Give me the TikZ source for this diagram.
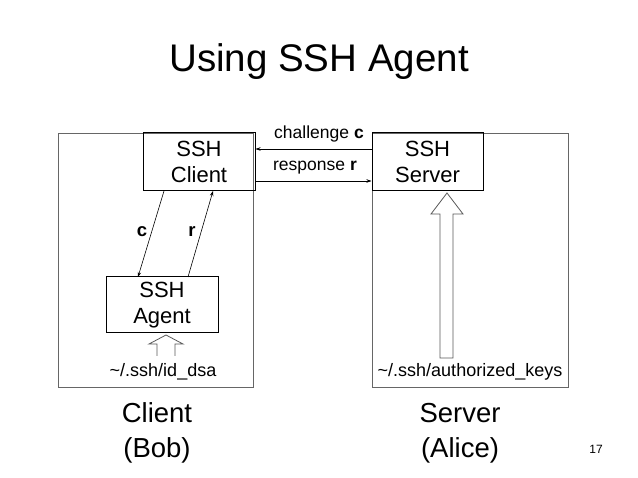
\documentclass[tikz,border=0pt]{standalone}
\usepackage{fontspec}
\setmainfont{Liberation Sans}
\usetikzlibrary{arrows.meta}
\begin{document}
\begin{tikzpicture}[x=1pt,y=-1pt,
  outer/.style={draw=black!60,line width=0.8pt,inner sep=0pt},
  boxn/.style={draw=black,line width=1pt,inner sep=0pt,align=center,font=\fontsize{22}{25.5}\selectfont},
  lab/.style={inner sep=0pt,font=\fontsize{17.5}{20}\selectfont},
  conn/.style={line width=0.6pt,-{Stealth[length=5pt,width=3.5pt]}},
  hollow/.style={draw=black!65,fill=white,line width=0.8pt}]
\useasboundingbox (0,0) rectangle (638,478);
% title
\node[font=\fontsize{38.5}{44}\selectfont] (title) at (319,62) {Using SSH Agent};
% outer frames
\node[outer,minimum width=195pt,minimum height=254pt] (cframe) at (155.5,260) {};
\node[outer,minimum width=196pt,minimum height=254pt] (sframe) at (470,260) {};
% boxes
\node[boxn,minimum width=112pt,minimum height=58pt] (client) at (199,162) {SSH\\Client};
\node[boxn,minimum width=111pt,minimum height=58pt] (server) at (427.5,162) {SSH\\Server};
\node[boxn,minimum width=112pt,minimum height=56pt] (agent) at (162,305) {SSH\\Agent};
% file labels
\node[lab,font=\fontsize{18}{20}\selectfont] (idfile) at (163,372) {\textasciitilde/.ssh/id\_dsa};
\node[lab,font=\fontsize{18}{20}\selectfont] (akfile) at (470,372) {\textasciitilde/.ssh/authorized\_keys};
% client-server arrows
\coordinate (chs) at (server.west |- 0,149);
\coordinate (che) at (client.east |- 0,149);
\coordinate (rss) at (client.east |- 0,181);
\coordinate (rse) at (server.west |- 0,181);
\draw[conn] (chs) -- (che);
\draw[conn] (rss) -- (rse);
\node[lab] (chl) at (319,134) {challenge \textbf{c}};
\node[lab] (rsl) at (315,168) {response \textbf{r}};
% client-agent arrows
\coordinate (cs) at (164,191);
\coordinate (ce) at (138,277);
\coordinate (rs) at (188,277);
\coordinate (re) at (213,191);
\draw[conn] (cs) -- (ce);
\draw[conn] (rs) -- (re);
\node[lab,font=\fontsize{18.5}{20}\selectfont\bfseries] (cl) at (142,232) {c};
\node[lab,font=\fontsize{18.5}{20}\selectfont\bfseries] (rl) at (192,232) {r};
% hollow arrows
\draw[hollow] (157,356) -- (157,344) -- (149,344) -- (166,335) -- (183,344) -- (175,344) -- (175,356);
\draw[hollow] (440,358) -- (440,214) -- (431,214) -- (447,193) -- (463,214) -- (453,214) -- (453,358) -- cycle;
% bottom labels
\node[align=center,font=\fontsize{27.5}{35}\selectfont] (cname) at (157,433) {Client\\(Bob)};
\node[align=center,font=\fontsize{27.5}{35}\selectfont] (sname) at (460,433) {Server\\(Alice)};
\node[font=\fontsize{12}{14}\selectfont] (pg) at (596,449) {17};
\end{tikzpicture}
\end{document}
